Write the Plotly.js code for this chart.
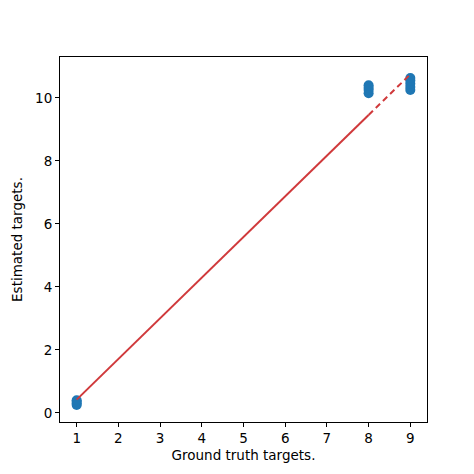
<!DOCTYPE html>
<html>
<head>
<meta charset="utf-8">
<script src="https://cdn.plot.ly/plotly-3.0.1.min.js"></script>
<style>html,body{margin:0;padding:0;background:#fff;}#plot{width:474px;height:474px;}</style>
</head>
<body>
<div id="plot"></div>
<script>
const truthX = [1, 1, 1, 1, 8, 8, 8, 8, 9, 9, 9, 9, 9];
const estimatedY = [0.25, 0.3, 0.35, 0.4, 10.15, 10.25, 10.32, 10.4, 10.25, 10.35, 10.45, 10.55, 10.63];
const fitSolidX = [1, 8];
const fitSolidY = [0.42, 9.46];
const fitDashX = [8, 9];
const fitDashY = [9.46, 10.75];

const font = {family: 'DejaVu Sans, sans-serif', size: 13.5, color: '#000'};
const traces = [
  {x: truthX, y: estimatedY, mode: 'markers', marker: {color: '#1f77b4', size: 10}},
  {x: fitSolidX, y: fitSolidY, mode: 'lines', line: {color: '#d0393b', width: 2}, hoverinfo: 'skip'},
  {x: fitDashX, y: fitDashY, mode: 'lines', line: {color: '#d0393b', width: 2, dash: '6px,4px'}, hoverinfo: 'skip'}
];
const axisBase = {showgrid: false, zeroline: false, showline: true, mirror: true, linecolor: '#000', linewidth: 1,
  ticks: 'outside', ticklen: 4, tickcolor: '#000', tickfont: font};
const layout = {
  width: 474, height: 474, showlegend: false,
  paper_bgcolor: '#fff', plot_bgcolor: '#fff',
  margin: {l: 60, r: 47, t: 57, b: 52},
  font: font,
  xaxis: Object.assign({}, axisBase, {range: [0.6, 9.4], tickvals: [1,2,3,4,5,6,7,8,9],
    title: {text: 'Ground truth targets.', font: font, standoff: 5}}),
  yaxis: Object.assign({}, axisBase, {range: [-0.29, 11.3], tickvals: [0,2,4,6,8,10],
    title: {text: 'Estimated targets.', font: font, standoff: 9}})
};
Plotly.newPlot('plot', traces, layout, {staticPlot: true, displayModeBar: false});
</script>
</body>
</html>
